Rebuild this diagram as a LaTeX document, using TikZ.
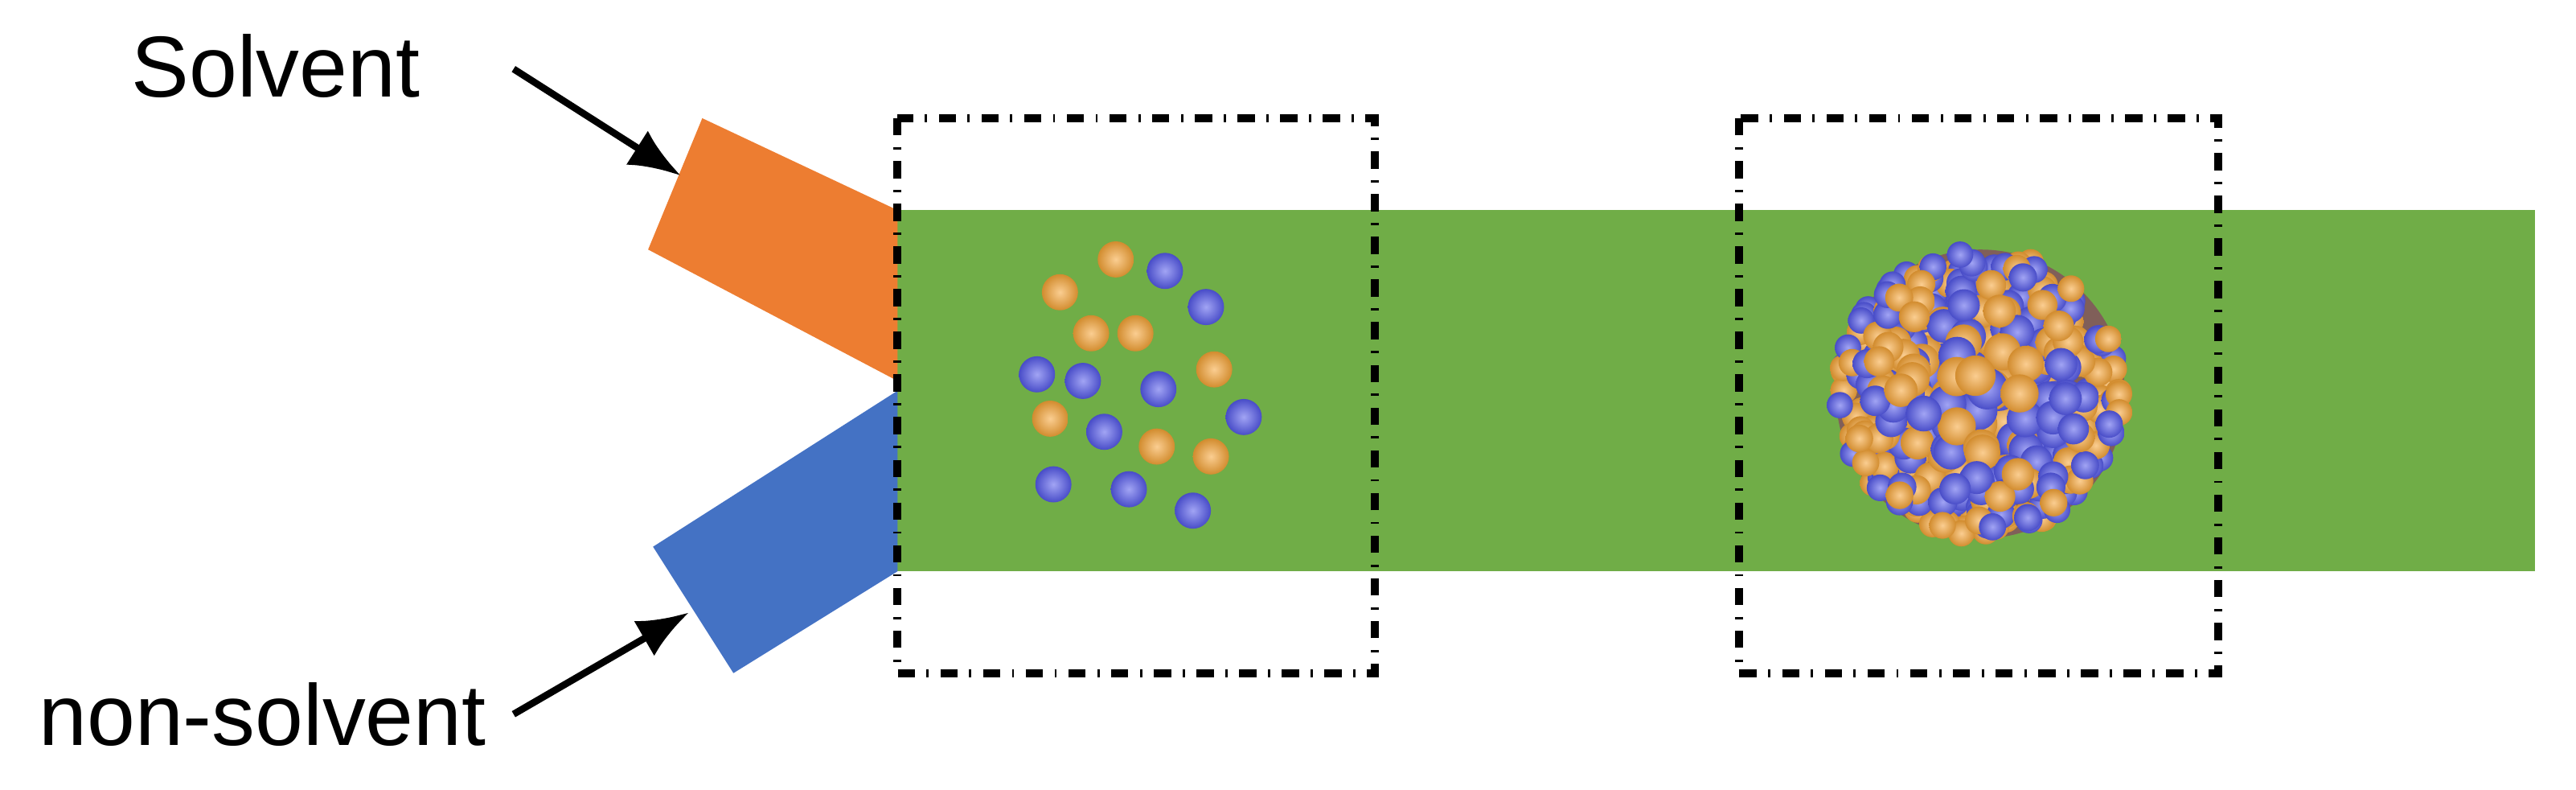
\documentclass[tikz,border=0pt]{standalone}
\usepackage{fontspec}
\setmainfont{Liberation Sans}
\usetikzlibrary{arrows.meta,calc}
\definecolor{chg}{RGB}{112,173,71}
\definecolor{orin}{RGB}{237,125,49}
\definecolor{blin}{RGB}{68,114,196}
\definecolor{ob}{RGB}{247,165,55}
\definecolor{bb}{RGB}{85,90,235}
\tikzset{
  lab/.style={font=\fontsize{15}{18}\selectfont, inner sep=0pt},
  arr/.style={-{Latex[length=9,width=7]}, line width=1.2pt},
  dbox/.style={dash dot, line width=1.4pt},
  ors/.style={inner color=ob!55!white, outer color=ob!85!black},
  bls/.style={inner color=bb!55!white, outer color=bb!85!black},
}
\begin{document}
\begin{tikzpicture}[x=0.1mm,y=-0.1mm]
\useasboundingbox (0,0) rectangle (1570,481);
\fill[chg] (547,128) rectangle (1545,348);
\fill[orin] (428,72) -- (547,128) -- (547,232) -- (395,152) -- cycle;
\fill[blin] (547,238) -- (547,348) -- (447,410) -- (398,333) -- cycle;
\node[lab] (sol) at (168,40) {Solvent};
\node[lab] (non) at (160,435) {non-solvent};
\coordinate (sa) at (415,107);
\coordinate (na) at (420,373);
\draw[arr] (313,42) -- (sa);
\draw[arr] (313,435) -- (na);
\draw[dbox] (547,72) rectangle (838,410);
\draw[dbox] (1060,72) rectangle (1352,410);
\foreach \p in {(646,178),(680,158),(665,203),(692,203),(740,225),(640,255),(705,272),(738,278)}
  \shade[ors] \p circle (11);
\foreach \p in {(710,165),(735,187),(632,228),(660,232),(706,237),(758,254),(673,263),(642,295),(688,298),(727,311)}
  \shade[bls] \p circle (11);
\fill[bb!40!ob!70!black] (1207,240) circle (88);
\pgfmathsetseed{7}
\foreach \i in {1,...,450}{
  \pgfmathsetmacro{\a}{rnd*360}
  \pgfmathsetmacro{\r}{86*sqrt(rnd)}
  \pgfmathsetmacro{\c}{rnd}
  \pgfmathsetmacro{\s}{8+5*(1-\r/86)}
  \ifdim\c pt<0.5pt
    \shade[ors] ($(1207,240)+(\a:\r)$) circle (\s);
  \else
    \shade[bls] ($(1207,240)+(\a:\r)$) circle (\s);
  \fi
}
\end{tikzpicture}
\end{document}
